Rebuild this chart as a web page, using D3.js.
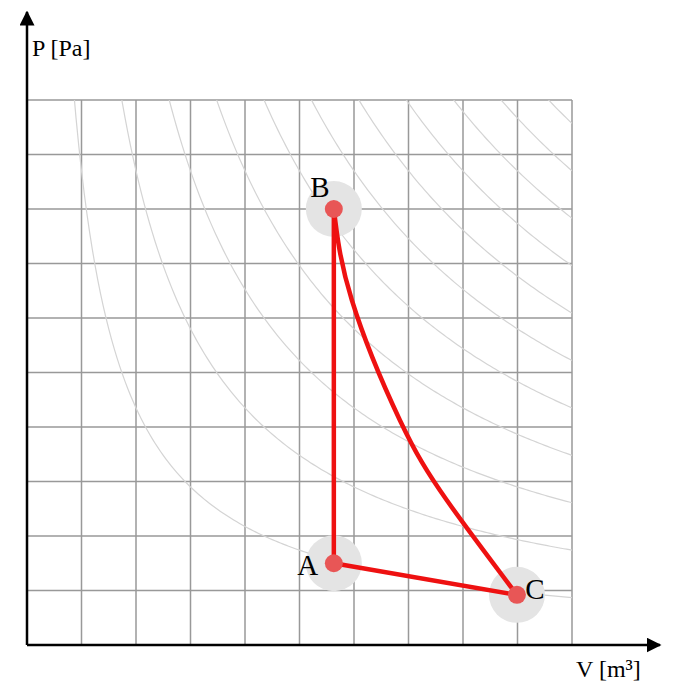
<!DOCTYPE html><html><head><meta charset="utf-8"><script src="https://cdn.jsdelivr.net/npm/d3@7"></script>
<style>body{margin:0;background:#fff}text{font-family:"Liberation Serif",serif}</style></head><body>
<script>
const gridTicks=[0,1,2,3,4,5,6,7,8,9,10];
const isoConstants=[8.7,17.4,26.1,34.8,43.5,52.2,60.9,69.6,78.3,87,95.7];
const pointNames=["A","B","C"];
const pointV=[5.63,5.63,8.99];
const pointP=[1.5,8.0,0.92];
const curveV=[5.63,5.96,6.84,7.7,8.99];
const curveP=[8.0,6.33,4.13,2.66,0.92];
const labelPos={A:[-26,12],B:[-14,-12],C:[18,4]};

const svg=d3.select("body").append("svg").attr("width",676).attr("height",700);
const x=d3.scaleLinear().domain([0,10]).range([27,572]);
const y=d3.scaleLinear().domain([0,10]).range([645,100]);
svg.append("defs").append("clipPath").attr("id","c").append("rect").attr("x",x(0)).attr("y",y(10)).attr("width",x(10)-x(0)).attr("height",y(0)-y(10));
const g=svg.append("g");
g.selectAll(".vl").data(gridTicks).join("line").attr("x1",d=>x(d)).attr("x2",d=>x(d)).attr("y1",y(0)).attr("y2",y(10)).attr("stroke","#999").attr("stroke-width",1.5);
g.selectAll(".hl").data(gridTicks).join("line").attr("y1",d=>y(d)).attr("y2",d=>y(d)).attr("x1",x(0)).attr("x2",x(10)).attr("stroke","#999").attr("stroke-width",1.5);
const iso=d3.line().x(d=>x(d[0])).y(d=>y(d[1]));
g.append("g").attr("clip-path","url(#c)").selectAll("path").data(isoConstants).join("path")
 .attr("d",k=>iso(d3.range(0.5,10.05,0.05).map(v=>[v,k/v]))).attr("fill","none").attr("stroke","#d4d4d4").attr("stroke-width",1.2);
svg.append("defs").append("marker").attr("id","ar").attr("viewBox","0 0 10 10").attr("refX",9).attr("refY",5).attr("markerWidth",6).attr("markerHeight",6).attr("orient","auto").attr("markerUnits","strokeWidth")
 .append("path").attr("d","M0,0L10,5L0,10z").attr("fill","#000");
svg.append("line").attr("x1",x(0)).attr("y1",y(0)).attr("x2",660).attr("y2",y(0)).attr("stroke","#000").attr("stroke-width",2.5).attr("marker-end","url(#ar)");
svg.append("line").attr("x1",x(0)).attr("y1",y(0)).attr("x2",x(0)).attr("y2",12).attr("stroke","#000").attr("stroke-width",2.5).attr("marker-end","url(#ar)");
svg.append("text").attr("x",32).attr("y",56).attr("font-size",24).text("P [Pa]");
svg.append("text").attr("x",576).attr("y",677).attr("font-size",24).text("V [m³]");
const pts=pointNames.map((n,i)=>({n,v:pointV[i],p:pointP[i]}));
svg.selectAll(".h").data(pts).join("circle").attr("cx",d=>x(d.v)).attr("cy",d=>y(d.p)).attr("r",28).attr("fill","#e4e4e4");
const A=pts[0],B=pts[1],C=pts[2];
const red="#ee1111";
svg.append("path").attr("d",d3.line().x(d=>x(d.v)).y(d=>y(d.p))([A,B])).attr("stroke",red).attr("stroke-width",4.5).attr("fill","none");
svg.append("path").attr("d",d3.line().x(d=>x(d.v)).y(d=>y(d.p))([A,C])).attr("stroke",red).attr("stroke-width",4.5).attr("fill","none");
svg.append("path").attr("d",d3.line().curve(d3.curveNatural).x((d,i)=>x(curveV[i])).y((d,i)=>y(curveP[i]))(curveV)).attr("stroke",red).attr("stroke-width",4.5).attr("fill","none");
svg.selectAll(".d").data(pts).join("circle").attr("cx",d=>x(d.v)).attr("cy",d=>y(d.p)).attr("r",9).attr("fill","#e85656");
svg.selectAll(".l").data(pts).join("text").attr("x",d=>x(d.v)+labelPos[d.n][0]).attr("y",d=>y(d.p)+labelPos[d.n][1]).attr("text-anchor","middle").attr("font-size",29).text(d=>d.n);
</script></body></html>
